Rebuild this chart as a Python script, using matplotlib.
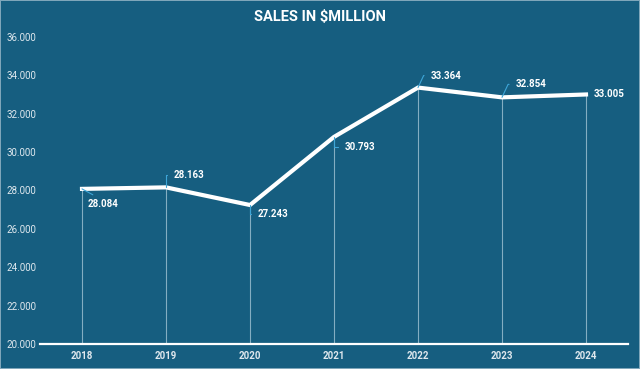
import matplotlib
matplotlib.use("Agg")
import matplotlib.pyplot as plt

years = ["2018", "2019", "2020", "2021", "2022", "2023", "2024"]
sales = [28.084, 28.163, 27.243, 30.793, 33.364, 32.854, 33.005]
y_ticks = [20, 22, 24, 26, 28, 30, 32, 34, 36]

BG = "#165e80"
LEADER = "#3ea6d8"

# label offsets in pixels from the point, and leader style
label_pos = [
    dict(dx=6, dy=-15, conn="arc3", relpos=(0.4, 1.0), leader=True),
    dict(dx=8, dy=12, conn="angle,angleA=0,angleB=90,rad=0", relpos=(0, 0.5), leader=True),
    dict(dx=8, dy=-9, conn="angle,angleA=0,angleB=90,rad=0", relpos=(0, 0.5), leader=True),
    dict(dx=11, dy=-10, conn="angle,angleA=0,angleB=90,rad=0", relpos=(0, 0.5), leader=True),
    dict(dx=13, dy=12, conn="angle,angleA=0,angleB=65,rad=0", relpos=(0, 0.5), leader=True),
    dict(dx=14, dy=13, conn="angle,angleA=0,angleB=65,rad=0", relpos=(0, 0.5), leader=True),
    dict(dx=8, dy=0, conn="arc3", relpos=(0, 0.5), leader=False),
]

plt.rcParams["font.family"] = ["Roboto", "DejaVu Sans"]
fig = plt.figure(figsize=(6.4, 3.69), dpi=100, facecolor=BG)
fig.patch.set_edgecolor("#7fa6ba")
fig.patch.set_linewidth(1.2)
ax = fig.add_axes([0.0625, 0.0678, 0.91875, 0.8319], facecolor=BG)

x = list(range(len(years)))
ax.vlines(x, 20, sales, color="#cfe4ef", lw=0.8, alpha=0.6, zorder=1)
ax.plot(x, sales, color="white", lw=3, solid_joinstyle="miter", zorder=3)
ax.axhline(20, color="white", lw=1.6, zorder=4, clip_on=False)

for xi, v, p in zip(x, sales, label_pos):
    arrow = None
    if p["leader"]:
        arrow = dict(arrowstyle="-", color=LEADER, lw=0.8, shrinkA=2 if p["conn"] == "arc3" else 3,
                     shrinkB=0, connectionstyle=p["conn"], relpos=p["relpos"])
    ax.annotate(f"{v:.3f}", (xi, v), xytext=(p["dx"], p["dy"]), textcoords="offset pixels",
                ha="left", va="center", color="white", fontsize=7, fontweight="bold",
                arrowprops=arrow, zorder=5)

ax.set_xlim(-0.5, len(years) - 0.5)
ax.set_ylim(20, 36)
ax.set_xticks(x)
ax.set_xticklabels(years, fontsize=7, fontweight="bold", color="#dfe8ee")
ax.set_yticks(y_ticks)
ax.set_yticklabels([f"{t:.3f}" for t in y_ticks], fontsize=7, color="#dfe8ee", ha="left")
ax.tick_params(axis="y", length=0, pad=24)
ax.tick_params(axis="x", length=0, pad=5)
for s in ax.spines.values():
    s.set_visible(False)

fig.text(0.5, 0.953, "SALES IN $MILLION", ha="center", va="center", color="white",
         fontsize=10.5, fontweight="bold")

fig.savefig("out.png", dpi=100, facecolor=BG, edgecolor=fig.patch.get_edgecolor())
